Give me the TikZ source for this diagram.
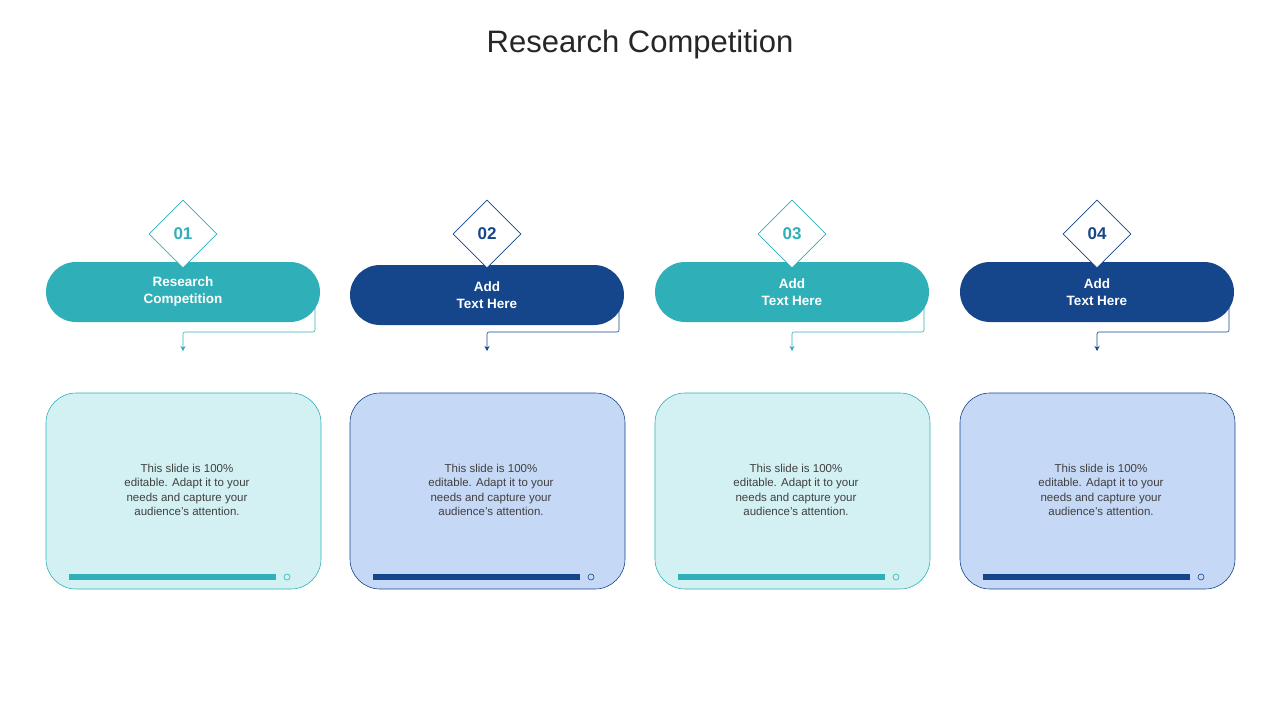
\documentclass[tikz,border=0pt]{standalone}
\usepackage{fontspec}
\setmainfont{Liberation Sans}
\usetikzlibrary{shapes.geometric,arrows.meta}
\definecolor{teal}{HTML}{2FB0B8}
\definecolor{navy}{HTML}{15458A}
\definecolor{lteal}{HTML}{D3F1F3}
\definecolor{lblue}{HTML}{C5D8F5}
\definecolor{txt}{HTML}{404040}
\tikzset{
 pill/.style={rounded corners=30pt,minimum width=274pt,minimum height=60pt,inner sep=0pt,text=white,font=\fontsize{13.5}{17}\selectfont\bfseries,align=center},
 dia/.style={diamond,draw,fill=white,line width=0.6pt,minimum width=68pt,minimum height=68pt,inner sep=0pt,font=\fontsize{17}{20}\selectfont\bfseries},
 bodybox/.style={rounded corners=30pt,minimum width=275pt,minimum height=196pt,draw,line width=0.6pt},
 body/.style={font=\fontsize{11.5}{14.3}\selectfont,text=txt,align=center},
 conn/.style={line width=0.6pt,-{Stealth[length=5pt,width=5pt]}}
}
\begin{document}
\begin{tikzpicture}[x=1pt,y=-1pt]
\useasboundingbox (0,0) rectangle (1280,720);
\node[font=\fontsize{31}{36}\selectfont,text=black!85] (title) at (640,44) {Research Competition};
\foreach \i/\cx/\py/\c/\l/\t in {1/183/292/teal/lteal/{Research\\Competition},2/487/295/navy/lblue/{Add\\Text Here},3/792/292/teal/lteal/{Add\\Text Here},4/1097/292/navy/lblue/{Add\\Text Here}}{
 \node[bodybox,draw=\c,fill=\l] (b\i) at (\cx+0.5,491) {};
 \node[body] (bt\i) at (\cx+4,490) {This slide is 100\%\\editable. Adapt it to your\\needs and capture your\\audience's attention.};
 \fill[\c] (\cx-114,574) rectangle (\cx+93,580);
 \draw[\c,line width=0.6pt] (\cx+104,577) circle (3);
 \node[pill,fill=\c] (p\i) at (\cx,\py) {\t};
 \coordinate (s\i) at (\cx+132,\py-14);
 \coordinate (e\i) at (\cx,351);
 \draw[conn,\c,rounded corners=2pt] (s\i) -- (\cx+132,332) -- (\cx,332) -- (e\i);
 \node[dia,draw=\c,text=\c] (d\i) at (\cx,234) {0\i};
}
\end{tikzpicture}
\end{document}
